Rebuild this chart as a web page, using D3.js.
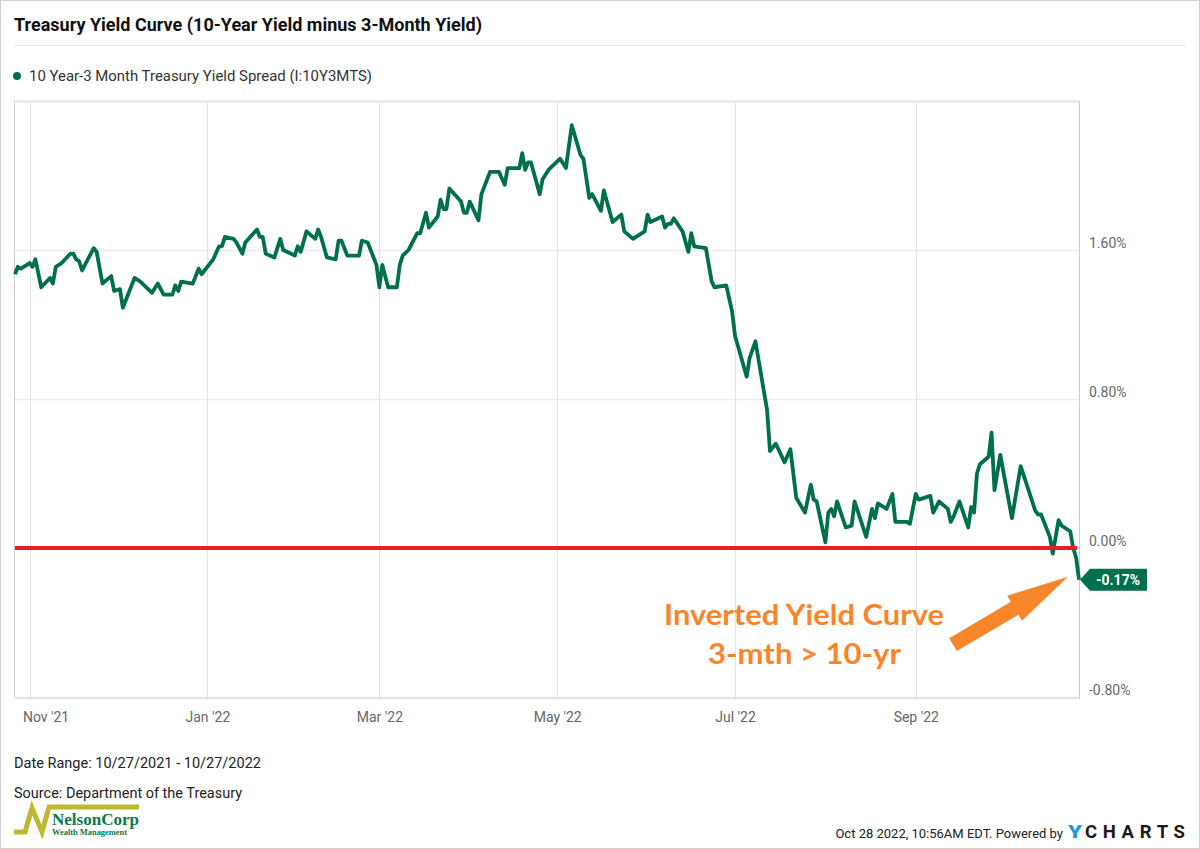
<!DOCTYPE html>
<html>
<head>
<meta charset="utf-8">
<script src="https://cdn.jsdelivr.net/npm/d3@7"></script>
<style>
  html, body { margin: 0; padding: 0; background: #fff; }
  svg { display: block; font-family: Roboto, 'Noto Sans', sans-serif; }
</style>
</head>
<body>
<svg id="chart" width="1200" height="849"></svg>
<script>
// 10Y - 3M spread (business-day vertices)
const dates = [
  '2021-10-27', '2021-10-28', '2021-10-29',
  '2021-11-01', '2021-11-02', '2021-11-03', '2021-11-05', '2021-11-08', '2021-11-09', '2021-11-10', '2021-11-12',
  '2021-11-15', '2021-11-16', '2021-11-17', '2021-11-18', '2021-11-19', '2021-11-23', '2021-11-24', '2021-11-26',
  '2021-11-29', '2021-11-30',
  '2021-12-02', '2021-12-03', '2021-12-07', '2021-12-09', '2021-12-13', '2021-12-15', '2021-12-17', '2021-12-20',
  '2021-12-21', '2021-12-22', '2021-12-23', '2021-12-27', '2021-12-29', '2021-12-30',
  '2022-01-03', '2022-01-05', '2022-01-06', '2022-01-07', '2022-01-10', '2022-01-11', '2022-01-13', '2022-01-14',
  '2022-01-18', '2022-01-19', '2022-01-20', '2022-01-21', '2022-01-24', '2022-01-26', '2022-01-27', '2022-01-31',
  '2022-02-01', '2022-02-02', '2022-02-04', '2022-02-07', '2022-02-08', '2022-02-09', '2022-02-11', '2022-02-14',
  '2022-02-15', '2022-02-16', '2022-02-18', '2022-02-22', '2022-02-23', '2022-02-25', '2022-02-28',
  '2022-03-01', '2022-03-02', '2022-03-04', '2022-03-07', '2022-03-08', '2022-03-09', '2022-03-11', '2022-03-14',
  '2022-03-15', '2022-03-17', '2022-03-18', '2022-03-21', '2022-03-22', '2022-03-23', '2022-03-24', '2022-03-25',
  '2022-03-29', '2022-03-30', '2022-03-31',
  '2022-04-01', '2022-04-04', '2022-04-05', '2022-04-08', '2022-04-11', '2022-04-13', '2022-04-14', '2022-04-18',
  '2022-04-19', '2022-04-20', '2022-04-21', '2022-04-22', '2022-04-25', '2022-04-26', '2022-04-28',
  '2022-05-02', '2022-05-04', '2022-05-06', '2022-05-09', '2022-05-10', '2022-05-12', '2022-05-13', '2022-05-16',
  '2022-05-17', '2022-05-20', '2022-05-23', '2022-05-24', '2022-05-27', '2022-05-31',
  '2022-06-01', '2022-06-02', '2022-06-06', '2022-06-07', '2022-06-08', '2022-06-09', '2022-06-10', '2022-06-13',
  '2022-06-15', '2022-06-16', '2022-06-17', '2022-06-21', '2022-06-23', '2022-06-24', '2022-06-28', '2022-06-30',
  '2022-07-01', '2022-07-05', '2022-07-06', '2022-07-08', '2022-07-12', '2022-07-13', '2022-07-15', '2022-07-18',
  '2022-07-20', '2022-07-22', '2022-07-25', '2022-07-27', '2022-07-28', '2022-07-29',
  '2022-08-01', '2022-08-02', '2022-08-03', '2022-08-04', '2022-08-05', '2022-08-08', '2022-08-10', '2022-08-11',
  '2022-08-15', '2022-08-17', '2022-08-18', '2022-08-19', '2022-08-22', '2022-08-24', '2022-08-25', '2022-08-29',
  '2022-08-30',
  '2022-09-01', '2022-09-02', '2022-09-06', '2022-09-07', '2022-09-09', '2022-09-12', '2022-09-13', '2022-09-14',
  '2022-09-16', '2022-09-19', '2022-09-20', '2022-09-21', '2022-09-22', '2022-09-23', '2022-09-26', '2022-09-27',
  '2022-09-28', '2022-09-30',
  '2022-10-04', '2022-10-07', '2022-10-12', '2022-10-13', '2022-10-14', '2022-10-17', '2022-10-18', '2022-10-20',
  '2022-10-21', '2022-10-24', '2022-10-25', '2022-10-26', '2022-10-27'
]
const spread = [
  1.47, 1.51, 1.50,
  1.53, 1.51, 1.55, 1.40, 1.45, 1.42, 1.51, 1.53,
  1.58, 1.58, 1.55, 1.54, 1.49, 1.61, 1.59, 1.42,
  1.46, 1.38,
  1.39, 1.29, 1.45, 1.43, 1.37, 1.42, 1.36, 1.36,
  1.41, 1.38, 1.43, 1.42, 1.50, 1.47,
  1.55, 1.62, 1.62, 1.67, 1.66, 1.64, 1.58, 1.64,
  1.71, 1.67, 1.67, 1.58, 1.56, 1.66, 1.60, 1.57,
  1.62, 1.59, 1.70, 1.66, 1.71, 1.67, 1.56, 1.55,
  1.65, 1.65, 1.57, 1.57, 1.65, 1.64, 1.52,
  1.40, 1.52, 1.40, 1.40, 1.52, 1.57, 1.60, 1.69,
  1.69, 1.80, 1.72, 1.78, 1.87, 1.82, 1.82, 1.93,
  1.86, 1.80, 1.80,
  1.86, 1.76, 1.90, 2.02, 2.02, 1.95, 2.04, 2.04,
  2.12, 2.03, 2.07, 2.07, 1.90, 1.98, 2.03,
  2.09, 2.04, 2.27, 2.11, 2.09, 1.88, 1.90, 1.81,
  1.92, 1.75, 1.79, 1.70, 1.66, 1.70,
  1.79, 1.75, 1.78, 1.72, 1.74, 1.74, 1.77, 1.70,
  1.59, 1.69, 1.62, 1.61, 1.43, 1.40, 1.41, 1.27,
  1.14, 0.92, 1.02, 1.11, 0.74, 0.52, 0.56, 0.46,
  0.53, 0.27, 0.19, 0.34, 0.26, 0.25,
  0.03, 0.19, 0.21, 0.17, 0.25, 0.11, 0.12, 0.25,
  0.06, 0.21, 0.16, 0.24, 0.21, 0.29, 0.14, 0.14,
  0.13,
  0.29, 0.26, 0.28, 0.19, 0.25, 0.21, 0.14, 0.17,
  0.25, 0.11, 0.22, 0.19, 0.40, 0.45, 0.49, 0.62,
  0.31, 0.50,
  0.16, 0.44, 0.20, 0.18, 0.18, 0.06, -0.03, 0.15,
  0.12, 0.09, 0.00, -0.05, -0.17
]
const yTicks = [-0.8, 0, 0.8, 1.6]
const xTicks = ['2021-11-01', '2022-01-01', '2022-03-01', '2022-05-01', '2022-07-01', '2022-09-01']
const dateRange = ['2021-10-27', '2022-10-27']
const yDomain = [-0.8, 2.4]
const threshold = 0

const parse = d3.timeParse('%Y-%m-%d')
const data = dates.map((d, i) => ({ date: parse(d), value: spread[i] }))
// ycharts prints a plain hyphen, not the unicode minus
const pct = v => d3.format('.2f')(v).replace('\u2212', '-') + '%'

const W = 1200, H = 849
const plotL = 15, plotR = 1079, plotT = 101, plotB = 697
const green = '#006f4b'
const orange = '#f7862b'

const svg = d3.select('#chart')

const x = d3.scaleTime().domain(dateRange.map(parse)).range([plotL, plotR])
const y = d3.scaleLinear().domain(yDomain).range([plotB, plotT])

// outer frame
svg.append('rect')
  .attr('x', 0.5).attr('y', 0.5)
  .attr('width', W - 1).attr('height', H - 1)
  .attr('fill', '#fff').attr('stroke', '#cfcfcf')

// title
svg.append('text')
  .attr('x', 14).attr('y', 31)
  .attr('textLength', 468).attr('lengthAdjust', 'spacingAndGlyphs')
  .style('font-size', '18px').style('font-weight', 700)
  .attr('fill', '#111')
  .text('Treasury Yield Curve (10-Year Yield minus 3-Month Yield)')

svg.append('line')
  .attr('x1', 14).attr('x2', 1186)
  .attr('y1', 45.5).attr('y2', 45.5)
  .attr('stroke', '#e6e6e6')

// legend
svg.append('circle')
  .attr('cx', 17).attr('cy', 76).attr('r', 4)
  .attr('fill', green)
svg.append('text')
  .attr('x', 29).attr('y', 81)
  .attr('textLength', 343).attr('lengthAdjust', 'spacingAndGlyphs')
  .style('font-size', '14.5px')
  .attr('fill', '#333')
  .text('10 Year-3 Month Treasury Yield Spread (I:10Y3MTS)')

// grid
const grid = svg.append('g')
grid.selectAll('.hgrid').data(yTicks.filter(t => t > yDomain[0]).concat([yDomain[1]])).enter()
  .append('line')
  .attr('x1', plotL).attr('x2', plotR)
  .attr('y1', d => Math.round(y(d)) + 0.5).attr('y2', d => Math.round(y(d)) + 0.5)
  .attr('stroke', d => d === yDomain[1] ? '#e4e4e4' : '#ececec')
  .attr('stroke-width', d => d === yDomain[1] ? 2 : 1.5)

grid.selectAll('.vgrid').data(xTicks.map(parse)).enter()
  .append('line')
  .attr('x1', d => Math.round(x(d)) + 0.5).attr('x2', d => Math.round(x(d)) + 0.5)
  .attr('y1', plotT).attr('y2', plotB)
  .attr('stroke', '#e3e3e3')

// frame of plot
grid.append('line')
  .attr('x1', plotL - 0.5).attr('x2', plotL - 0.5)
  .attr('y1', plotT).attr('y2', plotB)
  .attr('stroke', '#cccccc')
grid.append('line')
  .attr('x1', plotR + 0.5).attr('x2', plotR + 0.5)
  .attr('y1', plotT).attr('y2', plotB + 2)
  .attr('stroke', '#cccccc')
grid.append('line')
  .attr('x1', plotL).attr('x2', plotR)
  .attr('y1', plotB + 1).attr('y2', plotB + 1)
  .attr('stroke', '#e2e2e2').attr('stroke-width', 2.5)

// y axis labels on the right
const yAxis = d3.axisRight(y)
  .tickValues(yTicks)
  .tickSize(0)
  .tickFormat(pct)
svg.append('g')
  .attr('transform', `translate(${plotR + 10},0)`)
  .call(yAxis)
  .call(g => g.select('.domain').remove())
  .call(g => g.selectAll('text')
    .attr('x', 0).attr('dy', '-0.15em')
    .attr('text-anchor', 'start')
    .style('font-size', '14px')
    .style('font-family', 'Roboto')
    .attr('fill', '#666'))

// x axis labels
const xAxis = d3.axisBottom(x)
  .tickValues(xTicks.map(parse))
  .tickSize(0)
  .tickFormat(d3.timeFormat("%b '%y"))
svg.append('g')
  .attr('transform', `translate(0,${plotB + 12})`)
  .call(xAxis)
  .call(g => g.select('.domain').remove())
  .call(g => g.selectAll('text')
    .style('font-size', '14px')
    .style('font-family', 'Roboto')
    .attr('fill', '#666'))
  .call(g => g.selectAll('.tick').each(function(d, i) {
    if (i === 0) d3.select(this).select('text').attr('x', 16)
  }))

// series line
const line = d3.line()
  .x(d => x(d.date))
  .y(d => y(d.value))

svg.append('path')
  .datum(data)
  .attr('d', line)
  .attr('fill', 'none')
  .attr('stroke', green)
  .attr('stroke-width', 3.8)
  .attr('stroke-linejoin', 'round')

// zero line (red)
svg.append('line')
  .attr('x1', plotL).attr('x2', plotR - 2)
  .attr('y1', y(threshold)).attr('y2', y(threshold))
  .attr('stroke', '#ec1c24')
  .attr('stroke-width', 4)

// last value tag
const last = data[data.length - 1]
const ly = y(last.value)
const tag = svg.append('g').attr('transform', `translate(${plotR + 1},${ly})`)
tag.append('path')
  .attr('d', 'M0,0 L10,-11 L67,-11 L67,11 L10,11 Z')
  .attr('fill', green)
tag.append('text')
  .attr('x', 38).attr('y', 5)
  .attr('text-anchor', 'middle')
  .style('font-size', '14px').style('font-weight', 700)
  .attr('fill', '#fff')
  .text(pct(last.value))

// annotation
const tip = [x(last.date) - 11, ly - 3]
const tail = [tip[0] - 115, tip[1] + 68]
const dx = tip[0] - tail[0], dy = tip[1] - tail[1]
const len = Math.hypot(dx, dy)
const ux = dx / len, uy = dy / len
const px = -uy, py = ux
const shaftHalf = 7.5, headHalf = 14.5, headLen = 62
const hb = [tip[0] - ux * headLen, tip[1] - uy * headLen]
const arrowPts = [
  [tail[0] + px * shaftHalf, tail[1] + py * shaftHalf],
  [hb[0] + px * shaftHalf, hb[1] + py * shaftHalf],
  [hb[0] + px * headHalf, hb[1] + py * headHalf],
  tip,
  [hb[0] - px * headHalf, hb[1] - py * headHalf],
  [hb[0] - px * shaftHalf, hb[1] - py * shaftHalf],
  [tail[0] - px * shaftHalf, tail[1] - py * shaftHalf]
]
svg.append('polygon')
  .attr('points', arrowPts.map(p => p.join(',')).join(' '))
  .attr('fill', orange)

const note = svg.append('g')
  .style('font-family', 'Lato, "Open Sans", sans-serif')
  .style('font-weight', 700)
  .attr('fill', orange)
note.append('text')
  .attr('x', 664).attr('y', 625)
  .attr('textLength', 280).attr('lengthAdjust', 'spacingAndGlyphs')
  .style('font-size', '28px')
  .text('Inverted Yield Curve')
note.append('text')
  .attr('x', 708).attr('y', 664)
  .attr('textLength', 193).attr('lengthAdjust', 'spacingAndGlyphs')
  .style('font-size', '28px')
  .text('3-mth > 10-yr')

// footer
const foot = svg.append('g').style('font-size', '14.5px').attr('fill', '#222')
foot.append('text').attr('x', 14).attr('y', 768)
  .attr('textLength', 247).attr('lengthAdjust', 'spacingAndGlyphs')
  .text('Date Range: 10/27/2021 - 10/27/2022')
foot.append('text').attr('x', 14).attr('y', 798)
  .attr('textLength', 228).attr('lengthAdjust', 'spacingAndGlyphs')
  .text('Source: Department of the Treasury')
foot.append('text').attr('x', 1063).attr('y', 838)
  .attr('text-anchor', 'end')
  .style('font-size', '13px')
  .text('Oct 28 2022, 10:56AM EDT. Powered by')

// ycharts wordmark
svg.append('text')
  .attr('x', 1068).attr('y', 838)
  .attr('textLength', 14).attr('lengthAdjust', 'spacingAndGlyphs')
  .style('font-size', '18px').style('font-weight', 900)
  .attr('fill', '#1f9ad6')
  .text('Y')
svg.append('text')
  .attr('x', 1085).attr('y', 838)
  .attr('textLength', 100).attr('lengthAdjust', 'spacing')
  .style('font-size', '18.5px').style('font-weight', 700)
  .attr('fill', '#1a1a1a')
  .text('CHARTS')

// NelsonCorp logo
const logo = svg.append('g')
logo.append('path')
  .attr('d', 'M14,832 L25,832 L32,808 L42,832 L49,807 L139,807')
  .attr('fill', 'none')
  .attr('stroke', '#bdb733')
  .attr('stroke-width', 5)
  .attr('stroke-linejoin', 'miter')
logo.append('text')
  .attr('x', 52).attr('y', 825)
  .attr('textLength', 87).attr('lengthAdjust', 'spacingAndGlyphs')
  .style('font-family', '"Liberation Serif", "DejaVu Serif", serif')
  .style('font-size', '17px').style('font-weight', 700)
  .attr('fill', '#0b7a4b')
  .text('NelsonCorp')
logo.append('text')
  .attr('x', 52).attr('y', 835)
  .attr('textLength', 75).attr('lengthAdjust', 'spacingAndGlyphs')
  .style('font-family', '"Liberation Serif", "DejaVu Serif", serif')
  .style('font-size', '9px').style('font-weight', 700)
  .attr('fill', '#0b7a4b')
  .text('Wealth Management')
</script>
</body>
</html>
